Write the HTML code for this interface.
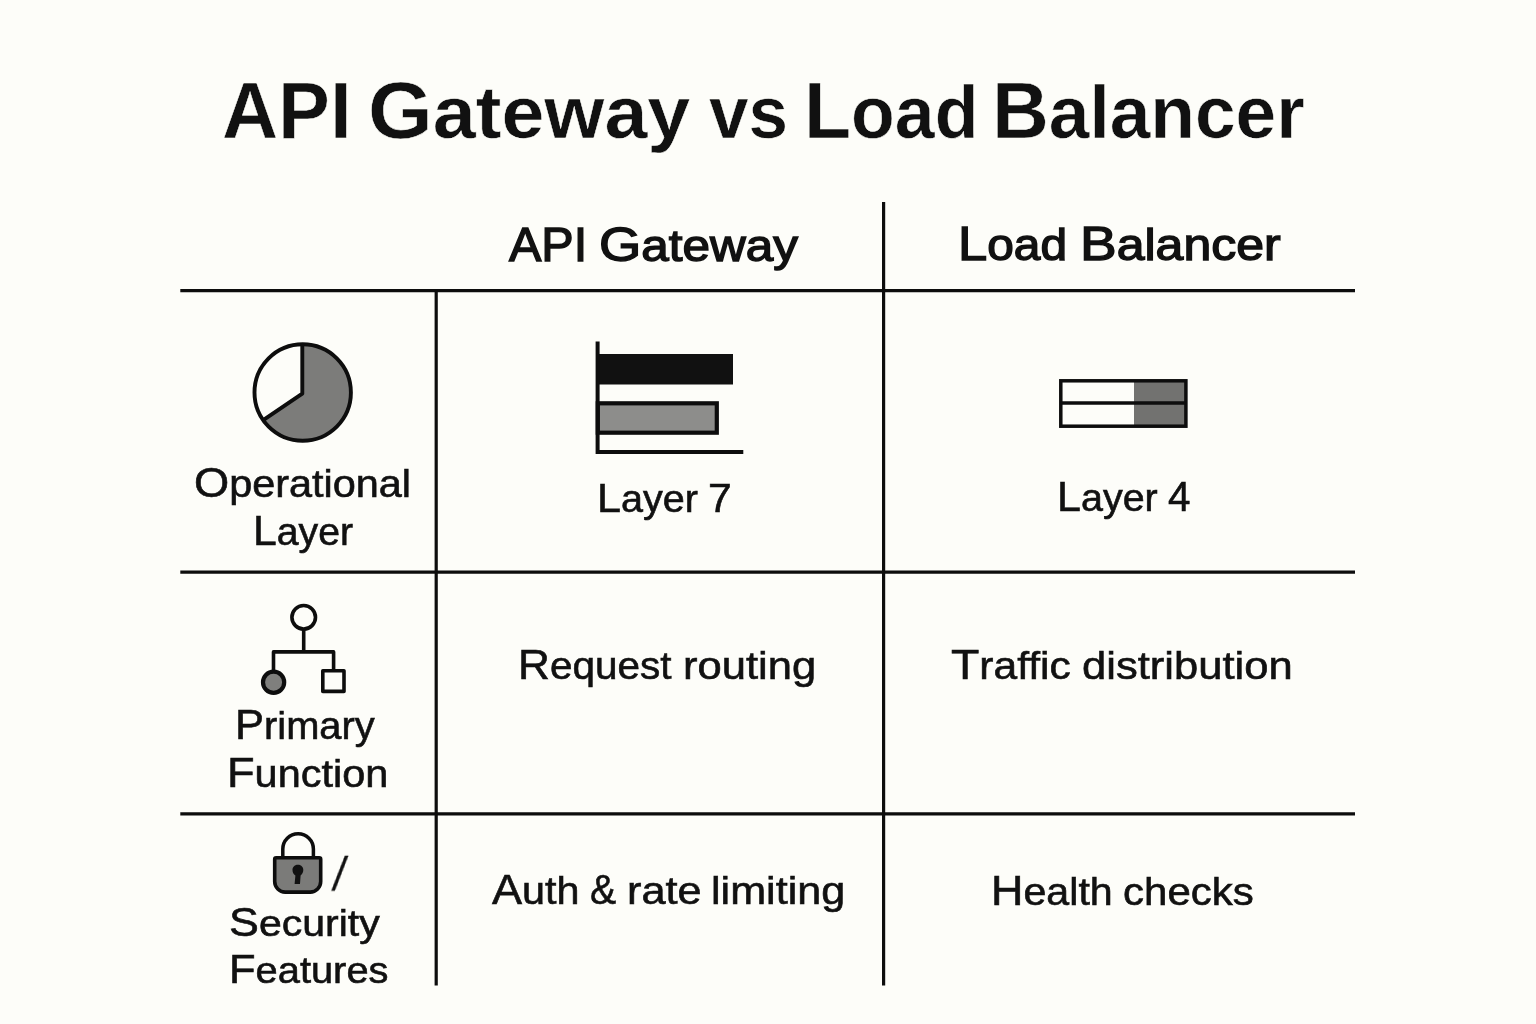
<!DOCTYPE html>
<html lang="en">
<head>
<meta charset="utf-8">
<title>API Gateway vs Load Balancer</title>
<style>
*{margin:0;padding:0;box-sizing:border-box}
html,body{width:1536px;height:1024px;overflow:hidden;background:#fdfdf9}
body{font-family:"Liberation Sans",sans-serif;color:#111111}
#page{position:relative;width:1536px;height:1024px;background:#fdfdf9;overflow:hidden}
#art{position:absolute;left:0;top:0;width:1536px;height:1024px}
.t{position:absolute;left:0;top:0;white-space:nowrap;line-height:1;font-weight:400;color:#111111;will-change:transform}
.t span{position:absolute;display:block;line-height:1;transform-origin:0 0}
#title{font-weight:700;-webkit-text-stroke:0.5px #fdfdf9;}
#title .cap::first-letter{font-size:80.38px;line-height:0}
#title .w0{left:221.51px;top:69.84px;font-size:80.38px;transform:scaleX(0.9664)}
#title .w1{left:368.31px;top:74.74px;font-size:74.59px;transform:scaleX(1.0354)}
#title .w2{left:709.15px;top:74.74px;font-size:74.59px;transform:scaleX(0.9521)}
#title .w3{left:803.69px;top:74.74px;font-size:74.59px;transform:scaleX(0.9598)}
#title .w4{left:992.11px;top:74.74px;font-size:74.59px;transform:scaleX(0.9793)}
#h1{-webkit-text-stroke:1.4px #111111;}
#h1 .cap::first-letter{font-size:48.26px;line-height:0}
#h1 .w0{left:509.03px;top:219.74px;font-size:48.26px;transform:scaleX(1.0059)}
#h1 .w1{left:598.78px;top:224.47px;font-size:43.85px;transform:scaleX(1.1280)}
#h2{-webkit-text-stroke:1.4px #111111;}
#h2 .cap::first-letter{font-size:48.84px;line-height:0}
#h2 .w0{left:957.98px;top:222.62px;font-size:44.39px;transform:scaleX(1.0779)}
#h2 .w1{left:1079.98px;top:222.62px;font-size:44.39px;transform:scaleX(1.1266)}
#r1a{-webkit-text-stroke:0.6px #111111;}
#r1a .cap::first-letter{font-size:41.86px;line-height:0}
#r1a .w0{left:194.09px;top:464.51px;font-size:38.37px;transform:scaleX(1.0797)}
#r1b{-webkit-text-stroke:0.6px #111111;}
#r1b .cap::first-letter{font-size:42.59px;line-height:0}
#r1b .w0{left:253.04px;top:511.74px;font-size:39.05px;transform:scaleX(1.0042)}
#c11{-webkit-text-stroke:0.6px #111111;}
#c11 .cap::first-letter{font-size:41.57px;line-height:0}
#c11 .w0{left:597.43px;top:479.74px;font-size:38.11px;transform:scaleX(1.0377)}
#c11 .w1{left:707.97px;top:476.80px;font-size:41.57px;transform:scaleX(1.0250)}
#c12{-webkit-text-stroke:0.6px #111111;}
#c12 .cap::first-letter{font-size:41.72px;line-height:0}
#c12 .w0{left:1057.14px;top:478.62px;font-size:38.24px;transform:scaleX(1.0326)}
#c12 .w1{left:1168.13px;top:475.68px;font-size:41.72px;transform:scaleX(0.9664)}
#r2a{-webkit-text-stroke:0.6px #111111;}
#r2a .cap::first-letter{font-size:42.44px;line-height:0}
#r2a .w0{left:235.32px;top:706.75px;font-size:38.91px;transform:scaleX(1.0248)}
#r2b{-webkit-text-stroke:0.6px #111111;}
#r2b .cap::first-letter{font-size:42.01px;line-height:0}
#r2b .w0{left:227.06px;top:755.39px;font-size:38.51px;transform:scaleX(1.0762)}
#c21{-webkit-text-stroke:0.6px #111111;}
#c21 .cap::first-letter{font-size:42.73px;line-height:0}
#c21 .w0{left:518.22px;top:645.93px;font-size:39.18px;transform:scaleX(1.0346)}
#c21 .w1{left:683.37px;top:645.93px;font-size:39.18px;transform:scaleX(1.1121)}
#c22{-webkit-text-stroke:0.6px #111111;}
#c22 .cap::first-letter{font-size:42.59px;line-height:0}
#c22 .w0{left:951.47px;top:645.94px;font-size:39.05px;transform:scaleX(1.0901)}
#c22 .w1{left:1082.41px;top:645.94px;font-size:39.05px;transform:scaleX(1.1156)}
#slash{-webkit-text-stroke:0.3px #111111;}
#slash .w0{left:336.50px;top:851.00px;font-size:47.60px;transform:skewX(-8deg) scaleX(0.9000)}
#r3a{-webkit-text-stroke:0.6px #111111;}
#r3a .cap::first-letter{font-size:41.13px;line-height:0}
#r3a .w0{left:228.93px;top:905.28px;font-size:37.70px;transform:scaleX(1.0892)}
#r3b{-webkit-text-stroke:0.6px #111111;}
#r3b .cap::first-letter{font-size:40.84px;line-height:0}
#r3b .w0{left:228.91px;top:951.80px;font-size:37.43px;transform:scaleX(1.0647)}
#c31{-webkit-text-stroke:0.6px #111111;}
#c31 .cap::first-letter{font-size:42.15px;line-height:0}
#c31 .w0{left:492.11px;top:871.98px;font-size:38.64px;transform:scaleX(1.0707)}
#c31 .w1{left:589.50px;top:869.01px;font-size:42.15px;transform:scaleX(0.9299)}
#c31 .w2{left:627.48px;top:871.98px;font-size:38.64px;transform:scaleX(1.1216)}
#c31 .w3{left:711.29px;top:871.98px;font-size:38.64px;transform:scaleX(1.1164)}
#c32{-webkit-text-stroke:0.6px #111111;}
#c32 .cap::first-letter{font-size:42.30px;line-height:0}
#c32 .w0{left:991.10px;top:872.97px;font-size:38.78px;transform:scaleX(1.0620)}
#c32 .w1{left:1122.70px;top:872.97px;font-size:38.78px;transform:scaleX(1.0844)}
</style>
</head>
<body>
<div id="page">
<svg id="art" width="1536" height="1024" viewBox="0 0 1536 1024" fill="none" stroke="#0d0d0d">
  <!-- table grid -->
  <g stroke-width="3.2" stroke-linecap="butt">
    <line x1="180.3" y1="290.7" x2="1355" y2="290.7"/>
    <line x1="180.3" y1="572.2" x2="1355" y2="572.2"/>
    <line x1="180.3" y1="813.8" x2="1355" y2="813.8"/>
    <line x1="436.2" y1="290.7" x2="436.2" y2="985.6"/>
    <line x1="883.6" y1="202" x2="883.6" y2="985.6"/>
  </g>
  <!-- pie chart icon -->
  <g stroke-width="3.9" stroke-linejoin="round">
    <path d="M302.3 393.6 L302.3 344.3 A48.2 48.2 0 1 1 263.2 420.2 Z" fill="#7c7c7a" stroke="none"/>
    <circle cx="302.7" cy="392.5" r="48.2"/>
    <path d="M302.3 344.3 V393.6 L263.2 420.2"/>
  </g>
  <!-- horizontal bar chart icon -->
  <g>
    <rect x="599" y="354" width="134" height="30.5" fill="#111" stroke="none"/>
    <rect x="597.8" y="403.3" width="119" height="29.4" fill="#8d8d8b" stroke-width="4.2"/>
    <path d="M597.6 341.5 V452 H743.3" stroke-width="4"/>
  </g>
  <!-- segmented bar icon -->
  <g stroke-width="3.5">
    <rect x="1134" y="381" width="52" height="45.5" fill="#727270" stroke="none"/>
    <rect x="1060.8" y="380.8" width="125.1" height="45.4"/>
    <line x1="1060.8" y1="403" x2="1185.9" y2="403"/>
  </g>
  <!-- hierarchy icon -->
  <g stroke-width="3.6" stroke-linejoin="round">
    <circle cx="303.7" cy="617.3" r="11.8"/>
    <path d="M303.7 629.1 V651.9 M273.5 670 V651.9 H333.6 V670"/>
    <circle cx="273.6" cy="682.2" r="10.6" fill="#7f7f7d" stroke-width="4.2"/>
    <rect x="322.8" y="670.8" width="21.2" height="20.6"/>
  </g>
  <!-- padlock icon -->
  <g stroke-width="3.6" stroke-linejoin="round">
    <path d="M282.8 857 V849.1 A15.3 15.3 0 0 1 313.4 849.1 V857" stroke-width="3.5"/>
    <path d="M276.2 857.8 H319.2 Q320.7 857.8 320.7 859.3 V881.6 A10.5 10.5 0 0 1 310.2 892.1 H285.2 A10.5 10.5 0 0 1 274.7 881.6 V859.3 Q274.7 857.8 276.2 857.8 Z" fill="#7b7b79"/>
    <path d="M297.9 864.8 C301.6 864.8 303.3 867.4 303.3 870 C303.3 872.6 302 874.3 300.6 875.4 L300 884 H294.6 L295.4 875.6 C293.6 874.4 292.5 872.6 292.5 870 C292.5 867.4 294.2 864.8 297.9 864.8 Z" fill="#111" stroke="none"/>
  </g>
</svg>

  <h1 class="t" id="title"><span class="w0">API</span> <span class="w1 cap">Gateway</span> <span class="w2">vs</span> <span class="w3 cap">Load</span> <span class="w4 cap">Balancer</span></h1>
  <div class="t" id="h1"><span class="w0">API</span> <span class="w1 cap">Gateway</span></div>
  <div class="t" id="h2"><span class="w0 cap">Load</span> <span class="w1 cap">Balancer</span></div>
  <div class="t" id="r1a"><span class="w0 cap">Operational</span></div>
  <div class="t" id="r1b"><span class="w0 cap">Layer</span></div>
  <div class="t" id="c11"><span class="w0 cap">Layer</span> <span class="w1">7</span></div>
  <div class="t" id="c12"><span class="w0 cap">Layer</span> <span class="w1">4</span></div>
  <div class="t" id="r2a"><span class="w0 cap">Primary</span></div>
  <div class="t" id="r2b"><span class="w0 cap">Function</span></div>
  <div class="t" id="c21"><span class="w0 cap">Request</span> <span class="w1">routing</span></div>
  <div class="t" id="c22"><span class="w0 cap">Traffic</span> <span class="w1">distribution</span></div>
  <div class="t" id="slash"><span class="w0">/</span></div>
  <div class="t" id="r3a"><span class="w0 cap">Security</span></div>
  <div class="t" id="r3b"><span class="w0 cap">Features</span></div>
  <div class="t" id="c31"><span class="w0 cap">Auth</span> <span class="w1">&amp;</span> <span class="w2">rate</span> <span class="w3">limiting</span></div>
  <div class="t" id="c32"><span class="w0 cap">Health</span> <span class="w1">checks</span></div>
</div>
</body>
</html>
